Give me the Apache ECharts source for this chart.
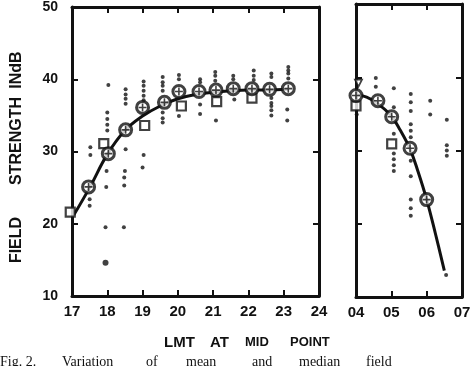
<!DOCTYPE html>
<html>
<head>
<meta charset="utf-8">
<script src="https://cdn.jsdelivr.net/npm/echarts@6/dist/echarts.min.js"></script>
<style>
html,body{margin:0;padding:0;background:#fff;}
#c{width:474px;height:366px;}
</style>
</head>
<body>
<div id="c"></div>
<script>
// ---------- data ----------
// Left panel: evening hours (LMT 17-24)
const leftTicks = [17, 18, 19, 20, 21, 22, 23, 24];
const leftDots = [
  [17.52,30.6],[17.52,29.5],[17.5,23.4],[17.5,22.5],
  [18.03,39.2],[18.0,35.4],[18.0,34.5],[18.0,33.7],[18.0,32.9],[17.98,27.3],[17.97,25.1],[17.95,19.5],
  [18.52,38.6],[18.52,37.9],[18.52,37.3],[18.52,36.6],[18.52,30.3],[18.5,27.3],[18.48,26.4],[18.48,25.3],[18.47,19.5],
  [19.03,39.7],[19.03,39.1],[19.03,38.4],[19.03,37.7],[19.03,37.1],[19.03,29.5],[19.0,27.8],
  [19.57,40.3],[19.57,39.6],[19.57,39.1],[19.57,38.4],[19.57,35.4],[19.57,34.6],[19.57,34.0],
  [20.03,40.6],[20.03,40.0],[20.03,34.9],
  [20.63,40.0],[20.63,39.6],[20.63,36.5],[20.63,35.2],
  [21.06,41.0],[21.06,40.5],[21.06,39.8],[21.08,34.3],
  [21.57,40.5],[21.57,40.0],[21.6,37.2],
  [22.15,41.2],[22.15,40.5],[22.15,39.9],
  [22.65,40.8],[22.65,40.3],[22.65,37.4],[22.65,36.7],[22.65,36.3],[22.65,35.7],[22.65,35.0],
  [23.13,41.7],[23.13,41.2],[23.13,40.8],[23.13,40.1],[23.1,35.8],[23.1,34.3]
];
const leftBigDots = [[17.95,14.6]];
const leftMeans = [
  [17.47,25.1],[18.03,29.7],[18.52,33.0],[19.0,36.1],[19.62,36.8],[20.03,38.3],
  [20.6,38.3],[21.08,38.5],[21.57,38.7],[22.1,38.7],[22.6,38.6],[23.13,38.7]
];
const leftMedians = [[16.95,21.6],[17.9,31.1],[19.06,33.6],[20.1,36.3],[21.1,36.9],[22.1,37.4]];
const leftCurve = [
  [17.05,21.2],[17.5,25.0],[18.0,29.6],[18.5,32.9],[19.0,34.9],[19.5,36.3],[20.0,37.3],
  [20.5,37.9],[21.0,38.2],[21.5,38.4],[22.0,38.5],[22.5,38.5],[23.13,38.6]
];

// Right panel: morning hours (LMT 04-07)
const rightTicks = ['04', '05', '06', '07'];
const rightDots = [
  [4.02,34.9],
  [4.56,39.9],[4.56,38.7],
  [5.07,38.5],[5.07,35.9],[5.07,32.3],[5.07,29.6],[5.07,28.8],[5.07,28.0],[5.07,27.2],
  [5.55,37.7],[5.55,36.6],[5.55,35.4],[5.55,33.6],[5.55,32.7],[5.55,31.8],[5.55,28.6],[5.55,26.5],
  [5.55,23.3],[5.55,22.1],[5.55,21.1],
  [6.1,36.8],[6.1,34.9],
  [6.57,34.2],[6.57,30.7],[6.57,30.0],[6.57,29.3],
  [6.55,13.0]
];
const rightMeans = [[4.0,37.5],[4.62,36.8],[5.01,34.6],[5.53,30.3],[6.0,23.3]];
const rightMedians = [[4.0,36.1],[5.01,30.9]];
const rightTriangle = [[4.07,39.2]];
const rightCurve = [
  [4.0,37.6],[4.3,37.3],[4.62,36.4],[5.0,34.7],[5.25,32.8],[5.53,30.2],
  [5.75,27.2],[6.0,23.3],[6.25,18.6],[6.5,13.6]
];

const yTicks = [10, 20, 30, 40, 50];

// ---------- chart ----------
const INK = '#111';
const FONT = 'Liberation Sans';
const chart = echarts.init(document.getElementById('c'), null, {renderer: 'canvas'});

function xAx(grid, min, max, pos, labels, fmt) {
  return {
    type: 'value', gridIndex: grid, min: min, max: max, interval: 1, position: pos,
    axisLine: {show: true, onZero: false, lineStyle: {color: INK, width: 3}},
    axisTick: {show: true, inside: true, length: 6, lineStyle: {color: INK, width: 2}},
    axisLabel: {show: labels, color: INK, fontFamily: FONT, fontWeight: 'bold', fontSize: 15, margin: 8,
      formatter: fmt},
    splitLine: {show: false}
  };
}
function yAx(grid, pos, labels) {
  return {
    type: 'value', gridIndex: grid, min: yTicks[0], max: yTicks[yTicks.length - 1], interval: 10, position: pos,
    axisLine: {show: true, onZero: false, lineStyle: {color: INK, width: 3}},
    axisTick: {show: true, inside: true, length: 6, lineStyle: {color: INK, width: 2}},
    axisLabel: {show: labels, color: INK, fontFamily: FONT, fontWeight: 'bold', fontSize: 14, margin: 14},
    splitLine: {show: false}
  };
}

const plusPath = 'path://M4,0h2v4h4v2h-4v4h-2v-4h-4v-2h4z';

function panelSeries(xi, yi, dots, bigDots, curve, medians, means) {
  const s = [
    {type: 'scatter', xAxisIndex: xi, yAxisIndex: yi, data: dots, symbol: 'circle', symbolSize: 4,
      itemStyle: {color: INK}, clip: false, z: 2, silent: true},
    {type: 'line', xAxisIndex: xi, yAxisIndex: yi, data: curve, smooth: 0.4, showSymbol: false,
      lineStyle: {color: INK, width: 3}, clip: false, z: 3, silent: true},
    {type: 'scatter', xAxisIndex: xi, yAxisIndex: yi, data: medians, symbol: 'rect', symbolSize: 9,
      itemStyle: {color: '#fff', borderColor: INK, borderWidth: 2.2}, clip: false, z: 4, silent: true},
    {type: 'scatter', xAxisIndex: xi, yAxisIndex: yi, data: means, symbol: 'circle', symbolSize: 12,
      itemStyle: {color: '#fff', borderColor: INK, borderWidth: 3}, clip: false, z: 5, silent: true},
    {type: 'scatter', xAxisIndex: xi, yAxisIndex: yi, data: means, symbol: plusPath, symbolSize: 8,
      itemStyle: {color: INK}, clip: false, z: 6, silent: true}
  ];
  if (bigDots) {
    s.push({type: 'scatter', xAxisIndex: xi, yAxisIndex: yi, data: bigDots, symbol: 'circle', symbolSize: 6,
      itemStyle: {color: INK}, clip: false, z: 2, silent: true});
  }
  return s;
}

const series = [].concat(
  panelSeries(0, 0, leftDots, leftBigDots, leftCurve, leftMedians, leftMeans),
  panelSeries(2, 2, rightDots, null, rightCurve, rightMedians, rightMeans),
  [{type: 'scatter', xAxisIndex: 2, yAxisIndex: 2, data: rightTriangle, symbol: 'triangle', symbolRotate: 180,
    symbolSize: 7, itemStyle: {color: '#fff', borderColor: INK, borderWidth: 1.8}, clip: false, z: 4, silent: true}]
);

function word(text, x, y, size, family, weight, rot) {
  return {type: 'text', x: x, y: y, rotation: rot || 0,
    style: {text: text, fill: INK, font: (weight || 'bold') + ' ' + size + 'px "' + family + '"',
      textAlign: 'left', textVerticalAlign: 'top'}};
}
function vword(text, cx, cy) {
  return {type: 'text', x: cx, y: cy, rotation: Math.PI / 2,
    style: {text: text, fill: INK, font: 'bold 16px "Liberation Sans"', textAlign: 'center', textVerticalAlign: 'middle'}};
}

chart.setOption({
  animation: false,
  backgroundColor: '#fff',
  grid: [
    {left: 72, top: 3, width: 247, height: 293},
    {left: 356, top: 4, width: 106, height: 293}
  ],
  xAxis: [
    xAx(0, leftTicks[0], leftTicks[leftTicks.length - 1], 'bottom', true, v => String(v)),
    xAx(0, leftTicks[0], leftTicks[leftTicks.length - 1], 'top', false),
    xAx(1, Number(rightTicks[0]), Number(rightTicks[rightTicks.length - 1]), 'bottom', true,
      v => rightTicks[v - Number(rightTicks[0])]),
    xAx(1, Number(rightTicks[0]), Number(rightTicks[rightTicks.length - 1]), 'top', false)
  ],
  yAxis: [
    yAx(0, 'left', true), yAx(0, 'right', false),
    yAx(1, 'left', false), yAx(1, 'right', false)
  ],
  series: series,
  graphic: [
    vword('FIELD', 17, 240),
    vword('STRENGTH', 17, 141),
    vword('INdB', 17, 70),
    word('LMT', 164, 335, 15, 'Liberation Sans'),
    word('AT', 210, 335, 15, 'Liberation Sans'),
    word('MID', 245, 336, 13, 'Liberation Sans'),
    word('POINT', 290, 336, 13, 'Liberation Sans'),
    word('Fig. 2.', 0, 355, 14, 'Liberation Serif', 'normal'),
    word('Variation', 62, 355, 14, 'Liberation Serif', 'normal'),
    word('of', 146, 355, 14, 'Liberation Serif', 'normal'),
    word('mean', 186, 355, 14, 'Liberation Serif', 'normal'),
    word('and', 252, 355, 14, 'Liberation Serif', 'normal'),
    word('median', 299, 355, 14, 'Liberation Serif', 'normal'),
    word('field', 366, 355, 14, 'Liberation Serif', 'normal')
  ]
});
</script>
</body>
</html>
